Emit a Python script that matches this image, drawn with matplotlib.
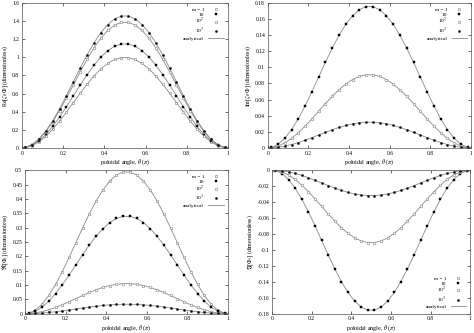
import matplotlib
matplotlib.use("Agg")
import matplotlib.pyplot as plt
from matplotlib.lines import Line2D
import numpy as np

plt.rcParams['font.family'] = ['Liberation Serif', 'DejaVu Serif']
plt.rcParams['mathtext.fontset'] = 'stix'

# poloidal angle sample points (units of pi)
theta = [0.0167, 0.05, 0.0833, 0.1167, 0.15, 0.1833, 0.2167, 0.25, 0.2833, 0.3167,
         0.35, 0.3833, 0.4167, 0.45, 0.4833, 0.5167, 0.55, 0.5833, 0.6167, 0.65,
         0.6833, 0.7167, 0.75, 0.7833, 0.8167, 0.85, 0.8833, 0.9167, 0.95, 0.9833]

# top left: Re[zeta Phi]
re_zphi_m1 = [0.003, 0.024, 0.067, 0.128, 0.206, 0.297, 0.396, 0.500, 0.604, 0.703,
              0.794, 0.872, 0.933, 0.976, 0.997, 0.997, 0.976, 0.933, 0.872, 0.794,
              0.703, 0.604, 0.500, 0.396, 0.297, 0.206, 0.128, 0.067, 0.024, 0.003]
re_zphi_m10 = [0.003, 0.028, 0.077, 0.148, 0.237, 0.341, 0.455, 0.575, 0.695, 0.809,
               0.913, 1.002, 1.073, 1.122, 1.147, 1.147, 1.122, 1.073, 1.002, 0.913,
               0.809, 0.695, 0.575, 0.455, 0.341, 0.237, 0.148, 0.077, 0.028, 0.003]
re_zphi_m100 = [0.004, 0.034, 0.093, 0.179, 0.287, 0.412, 0.551, 0.695, 0.840, 0.978,
                1.104, 1.212, 1.297, 1.356, 1.386, 1.386, 1.356, 1.297, 1.212, 1.104,
                0.978, 0.840, 0.695, 0.551, 0.412, 0.287, 0.179, 0.093, 0.034, 0.004]
re_zphi_m1000 = [0.004, 0.036, 0.098, 0.188, 0.301, 0.433, 0.578, 0.730, 0.882, 1.027,
                 1.159, 1.273, 1.362, 1.424, 1.456, 1.456, 1.424, 1.362, 1.273, 1.159,
                 1.027, 0.882, 0.730, 0.578, 0.433, 0.301, 0.188, 0.098, 0.036, 0.004]

# top right: Im[zeta Phi]
im_zphi_m10 = [0.0005, 0.0043, 0.0118, 0.0226, 0.0363, 0.0522, 0.0697, 0.0880, 0.1063, 0.1238,
               0.1397, 0.1534, 0.1642, 0.1717, 0.1755, 0.1755, 0.1717, 0.1642, 0.1534, 0.1397,
               0.1238, 0.1063, 0.0880, 0.0697, 0.0522, 0.0363, 0.0226, 0.0118, 0.0043, 0.0005]
im_zphi_m100 = [0.0002, 0.0022, 0.0061, 0.0117, 0.0188, 0.0270, 0.0360, 0.0455, 0.0550, 0.0640,
                0.0722, 0.0793, 0.0849, 0.0888, 0.0908, 0.0908, 0.0888, 0.0849, 0.0793, 0.0722,
                0.0640, 0.0550, 0.0455, 0.0360, 0.0270, 0.0188, 0.0117, 0.0061, 0.0022, 0.0002]
im_zphi_m1000 = [0.0001, 0.0008, 0.0021, 0.0041, 0.0066, 0.0095, 0.0127, 0.0160, 0.0193, 0.0225,
                 0.0254, 0.0279, 0.0299, 0.0312, 0.0319, 0.0319, 0.0312, 0.0299, 0.0279, 0.0254,
                 0.0225, 0.0193, 0.0160, 0.0127, 0.0095, 0.0066, 0.0041, 0.0021, 0.0008, 0.0001]

# bottom left: Re[Phi_i]
re_phi_m1 = [0.0014, 0.0121, 0.0332, 0.0636, 0.1020, 0.1468, 0.1960, 0.2475, 0.2990, 0.3482,
             0.3930, 0.4314, 0.4618, 0.4829, 0.4936, 0.4936, 0.4829, 0.4618, 0.4314, 0.3930,
             0.3482, 0.2990, 0.2475, 0.1960, 0.1468, 0.1020, 0.0636, 0.0332, 0.0121, 0.0014]
re_phi_m10 = [0.0009, 0.0083, 0.0228, 0.0437, 0.0701, 0.1009, 0.1347, 0.1700, 0.2053, 0.2391,
              0.2699, 0.2963, 0.3172, 0.3317, 0.3391, 0.3391, 0.3317, 0.3172, 0.2963, 0.2699,
              0.2391, 0.2053, 0.1700, 0.1347, 0.1009, 0.0701, 0.0437, 0.0228, 0.0083, 0.0009]
re_phi_m100 = [0.0003, 0.0026, 0.0070, 0.0135, 0.0216, 0.0311, 0.0416, 0.0525, 0.0634, 0.0739,
               0.0834, 0.0915, 0.0980, 0.1024, 0.1047, 0.1047, 0.1024, 0.0980, 0.0915, 0.0834,
               0.0739, 0.0634, 0.0525, 0.0416, 0.0311, 0.0216, 0.0135, 0.0070, 0.0026, 0.0003]
re_phi_m1000 = [0.0001, 0.0008, 0.0022, 0.0042, 0.0068, 0.0098, 0.0131, 0.0165, 0.0199, 0.0232,
                0.0262, 0.0288, 0.0308, 0.0322, 0.0329, 0.0329, 0.0322, 0.0308, 0.0288, 0.0262,
                0.0232, 0.0199, 0.0165, 0.0131, 0.0098, 0.0068, 0.0042, 0.0022, 0.0008, 0.0001]

# bottom right: Im[Phi_i]
im_phi_m10 = [-v for v in im_zphi_m10]
im_phi_m100 = [-v for v in im_zphi_m100]
im_phi_m1000 = [-v for v in im_zphi_m1000]

legend_labels = ['m = 1', '10', '10$^2$', '10$^3$', 'analytical']

GRAY = '#8a8a8a'
# marker styles for m = 1, 10, 10^2, 10^3
styles = {
    'm1': dict(marker='s', ms=1.9, mfc='white', mec=GRAY, mew=0.45),
    'm10': dict(marker='s', ms=1.8, mfc='black', mec='black', mew=0.3),
    'm100': dict(marker='o', ms=1.9, mfc='white', mec=GRAY, mew=0.45),
    'm1000': dict(marker='o', ms=1.5, mfc='black', mec='black', mew=0.3),
}


def draw_panel(ax, series, ylim, yticks, ylabel, legend_loc):
    th = np.array(theta)
    for key, vals in series:
        vals = np.array(vals)
        # analytical curve, closed to zero at both ends
        ax.plot(np.r_[0.0, th, 1.0], np.r_[0.0, vals, 0.0], color=GRAY, lw=0.6, zorder=1)
        ax.plot(th, vals, ls='none', zorder=2, **styles[key])
    ax.set_xlim(0, 1)
    ax.set_ylim(*ylim)
    ax.set_xticks([0, 0.2, 0.4, 0.6, 0.8, 1])
    ax.set_xticklabels(['0', '0.2', '0.4', '0.6', '0.8', '1'])
    ax.set_yticks(yticks)
    ax.set_yticklabels(['%g' % t for t in yticks])
    ax.tick_params(direction='in', top=True, right=True, length=2, width=0.4,
                   labelsize=4.0, pad=2)
    for sp in ax.spines.values():
        sp.set_linewidth(0.5)
        sp.set_color('#555555')
    ax.set_xlabel(r'poloidal angle, $\theta$ ($\pi$)', fontsize=4.3, labelpad=1.5)
    ax.set_ylabel(ylabel, fontsize=4.3, labelpad=1.5)

    handles = [Line2D([], [], ls='none', **styles[k]) for k in ['m1', 'm10', 'm100', 'm1000']]
    handles.append(Line2D([], [], color=GRAY, lw=0.6))
    leg = ax.legend(handles, legend_labels, loc=legend_loc, frameon=False, fontsize=3.9,
                    markerfirst=False, handlelength=2.8, handletextpad=0.8,
                    labelspacing=0.0, borderaxespad=0.4)
    for t in leg.get_texts():
        t.set_ha('right')
    leg._legend_box.align = 'right'


fig = plt.figure(figsize=(4.74, 3.33), dpi=100)
ax_tl = fig.add_axes([0.046, 0.556, 0.435, 0.435])
ax_tr = fig.add_axes([0.565, 0.556, 0.429, 0.435])
ax_bl = fig.add_axes([0.053, 0.058, 0.428, 0.431])
ax_br = fig.add_axes([0.574, 0.058, 0.418, 0.431])

draw_panel(ax_tl,
           [('m1', re_zphi_m1), ('m10', re_zphi_m10), ('m100', re_zphi_m100), ('m1000', re_zphi_m1000)],
           (0, 1.6), [0, 0.2, 0.4, 0.6, 0.8, 1, 1.2, 1.4, 1.6],
           r'Re[$\zeta_\theta\,\Phi$] (dimensionless)', 'upper right')
draw_panel(ax_tr,
           [('m10', im_zphi_m10), ('m100', im_zphi_m100), ('m1000', im_zphi_m1000)],
           (0, 0.18), [0, 0.02, 0.04, 0.06, 0.08, 0.1, 0.12, 0.14, 0.16, 0.18],
           r'Im[$\zeta_\theta\,\Phi$] (dimensionless)', 'upper right')
draw_panel(ax_bl,
           [('m1', re_phi_m1), ('m10', re_phi_m10), ('m100', re_phi_m100), ('m1000', re_phi_m1000)],
           (0, 0.5), [0, 0.05, 0.1, 0.15, 0.2, 0.25, 0.3, 0.35, 0.4, 0.45, 0.5],
           r'$\Re$[$\Phi_i$] (dimensionless)', 'upper right')
draw_panel(ax_br,
           [('m10', im_phi_m10), ('m100', im_phi_m100), ('m1000', im_phi_m1000)],
           (-0.18, 0), [-0.18, -0.16, -0.14, -0.12, -0.1, -0.08, -0.06, -0.04, -0.02, 0],
           r'$\Im$[$\Phi_i$] (dimensionless)', 'lower right')

fig.savefig('out.png', dpi=100)
